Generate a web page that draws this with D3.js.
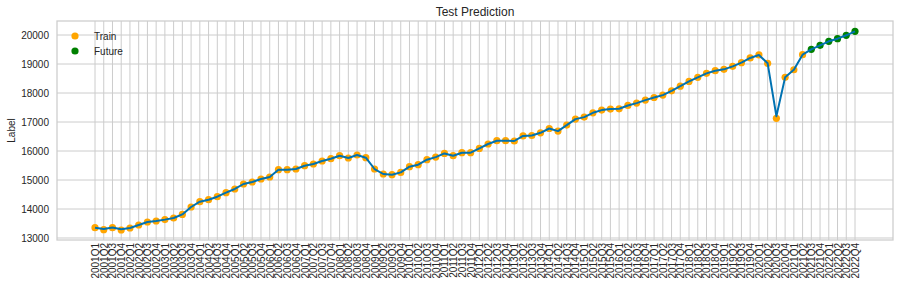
<!DOCTYPE html>
<html>
<head>
<meta charset="utf-8">
<script src="https://cdn.jsdelivr.net/npm/d3@7"></script>
<style>
  body { margin: 0; background: #fff; }
  svg { display: block; font-family: "Liberation Sans", Arial, sans-serif; }
</style>
</head>
<body>
<svg id="chart" width="900" height="289"></svg>
<script>
// quarters 2001Q1 .. 2022Q4
const quarters = [
  "2001Q1","2001Q2","2001Q3","2001Q4","2002Q1","2002Q2","2002Q3","2002Q4",
  "2003Q1","2003Q2","2003Q3","2003Q4","2004Q1","2004Q2","2004Q3","2004Q4",
  "2005Q1","2005Q2","2005Q3","2005Q4","2006Q1","2006Q2","2006Q3","2006Q4",
  "2007Q1","2007Q2","2007Q3","2007Q4","2008Q1","2008Q2","2008Q3","2008Q4",
  "2009Q1","2009Q2","2009Q3","2009Q4","2010Q1","2010Q2","2010Q3","2010Q4",
  "2011Q1","2011Q2","2011Q3","2011Q4","2012Q1","2012Q2","2012Q3","2012Q4",
  "2013Q1","2013Q2","2013Q3","2013Q4","2014Q1","2014Q2","2014Q3","2014Q4",
  "2015Q1","2015Q2","2015Q3","2015Q4","2016Q1","2016Q2","2016Q3","2016Q4",
  "2017Q1","2017Q2","2017Q3","2017Q4","2018Q1","2018Q2","2018Q3","2018Q4",
  "2019Q1","2019Q2","2019Q3","2019Q4","2020Q1","2020Q2","2020Q3","2020Q4",
  "2021Q1","2021Q2","2021Q3","2021Q4","2022Q1","2022Q2","2022Q3","2022Q4"
];

// actual values (train) 2001Q1 .. 2021Q2
const trainValues = [
  13355, 13286, 13355, 13276, 13345, 13448, 13552, 13586,
  13634, 13690, 13814, 14069, 14252, 14321, 14424, 14562,
  14690, 14862, 14931, 15034, 15103, 15355, 15355, 15379,
  15493, 15552, 15655, 15734, 15838, 15759, 15862, 15769,
  15379, 15207, 15183, 15262, 15459, 15528, 15700, 15790,
  15917, 15838, 15941, 15941, 16090, 16241, 16355, 16355,
  16345, 16520, 16534, 16628, 16776, 16686, 16893, 17100,
  17169, 17317, 17410, 17445, 17455, 17570, 17652, 17755,
  17845, 17928, 18075, 18237, 18400, 18539, 18677, 18769,
  18816, 18920, 19046, 19208, 19312, 19023, 17128, 18540,
  18802, 19321
];

// forecast 2021Q3 .. 2022Q4
const futureValues = [19507, 19645, 19783, 19873, 19990, 20128];

// model prediction line over the whole range
const predValues = [
  13355, 13310, 13365, 13300, 13345, 13448, 13552, 13586,
  13634, 13690, 13814, 14069, 14252, 14321, 14424, 14562,
  14690, 14862, 14931, 15034, 15103, 15355, 15355, 15379,
  15493, 15552, 15655, 15734, 15838, 15759, 15862, 15769,
  15379, 15207, 15183, 15262, 15459, 15528, 15700, 15790,
  15917, 15838, 15941, 15941, 16090, 16241, 16355, 16355,
  16345, 16520, 16534, 16628, 16776, 16686, 16893, 17100,
  17169, 17317, 17410, 17445, 17455, 17570, 17652, 17755,
  17845, 17928, 18075, 18237, 18400, 18539, 18677, 18769,
  18816, 18920, 19046, 19208, 19312, 19023, 17200, 18540,
  18802, 19321, 19507, 19645, 19783, 19873, 19990, 20128
];

const yTicks = [13000, 14000, 15000, 16000, 17000, 18000, 19000, 20000];

const margin = { left: 57, right: 893, top: 21, bottom: 240 };
const grid = "#cccccc";
const ink = "#262626";

const svg = d3.select("#chart");

const x = d3.scalePoint()
  .domain(quarters)
  .range([margin.left, margin.right])
  .padding(4.35);

const y = d3.scaleLinear()
  .domain([12931, 20483])
  .range([margin.bottom, margin.top]);

// grid lines
svg.append("g")
  .selectAll("line")
  .data(quarters)
  .enter()
  .append("line")
  .attr("x1", d => x(d)).attr("x2", d => x(d))
  .attr("y1", margin.top).attr("y2", margin.bottom)
  .attr("stroke", grid).attr("stroke-width", 1);

svg.append("g")
  .selectAll("line")
  .data(yTicks)
  .enter()
  .append("line")
  .attr("x1", margin.left).attr("x2", margin.right)
  .attr("y1", d => y(d)).attr("y2", d => y(d))
  .attr("stroke", grid).attr("stroke-width", 1);

// frame
svg.append("rect")
  .attr("x", margin.left).attr("y", margin.top)
  .attr("width", margin.right - margin.left)
  .attr("height", margin.bottom - margin.top)
  .attr("fill", "none").attr("stroke", grid).attr("stroke-width", 1.25);

// y axis labels
const yAxis = svg.append("g")
  .attr("transform", `translate(${margin.left},0)`)
  .call(d3.axisLeft(y).tickValues(yTicks).tickSize(0).tickPadding(8).tickFormat(d3.format("d")));
yAxis.select(".domain").remove();
yAxis.selectAll("text").attr("fill", ink).style("font-size", "10px")
  .style("font-family", "'Liberation Sans', Arial, sans-serif");

// x axis labels, rotated
const xAxis = svg.append("g")
  .attr("transform", `translate(0,${margin.bottom})`)
  .call(d3.axisBottom(x).tickSize(0).tickPadding(0));
xAxis.select(".domain").remove();
xAxis.selectAll("text")
  .attr("fill", ink)
  .style("font-size", "10px")
  .style("font-family", "'Liberation Sans', Arial, sans-serif")
  .attr("text-anchor", "end")
  .attr("transform", "translate(0,3) rotate(-90)")
  .attr("x", 0).attr("y", 0).attr("dy", "0.35em");

// points
svg.append("g")
  .selectAll("circle")
  .data(trainValues)
  .enter()
  .append("circle")
  .attr("cx", (d, i) => x(quarters[i]))
  .attr("cy", d => y(d))
  .attr("r", 3.6)
  .attr("fill", "#ffa500");

svg.append("g")
  .selectAll("circle")
  .data(futureValues)
  .enter()
  .append("circle")
  .attr("cx", (d, i) => x(quarters[trainValues.length + i]))
  .attr("cy", d => y(d))
  .attr("r", 3.6)
  .attr("fill", "#008000");

// prediction line
const line = d3.line()
  .x((d, i) => x(quarters[i]))
  .y(d => y(d));

svg.append("path")
  .datum(predValues)
  .attr("d", line)
  .attr("fill", "none")
  .attr("stroke", "#0072b2")
  .attr("stroke-width", 2)
  .attr("stroke-linejoin", "round");

// title and y label
svg.append("text")
  .attr("x", (margin.left + margin.right) / 2).attr("y", 16)
  .attr("text-anchor", "middle")
  .attr("fill", ink)
  .style("font-size", "12px")
  .text("Test Prediction");

svg.append("text")
  .attr("transform", `translate(15,${(margin.top + margin.bottom) / 2}) rotate(-90)`)
  .attr("text-anchor", "middle")
  .attr("fill", ink)
  .style("font-size", "10px")
  .text("Label");

// legend
const legendItems = [
  { label: "Train", color: "#ffa500" },
  { label: "Future", color: "#008000" }
];
const legend = svg.append("g")
  .selectAll("g")
  .data(legendItems)
  .enter()
  .append("g")
  .attr("transform", (d, i) => `translate(75,${36 + i * 15})`);

legend.append("circle").attr("r", 3.6).attr("fill", d => d.color);
legend.append("text")
  .attr("x", 19).attr("dy", "0.35em")
  .attr("fill", ink)
  .style("font-size", "10px")
  .text(d => d.label);
</script>
</body>
</html>
